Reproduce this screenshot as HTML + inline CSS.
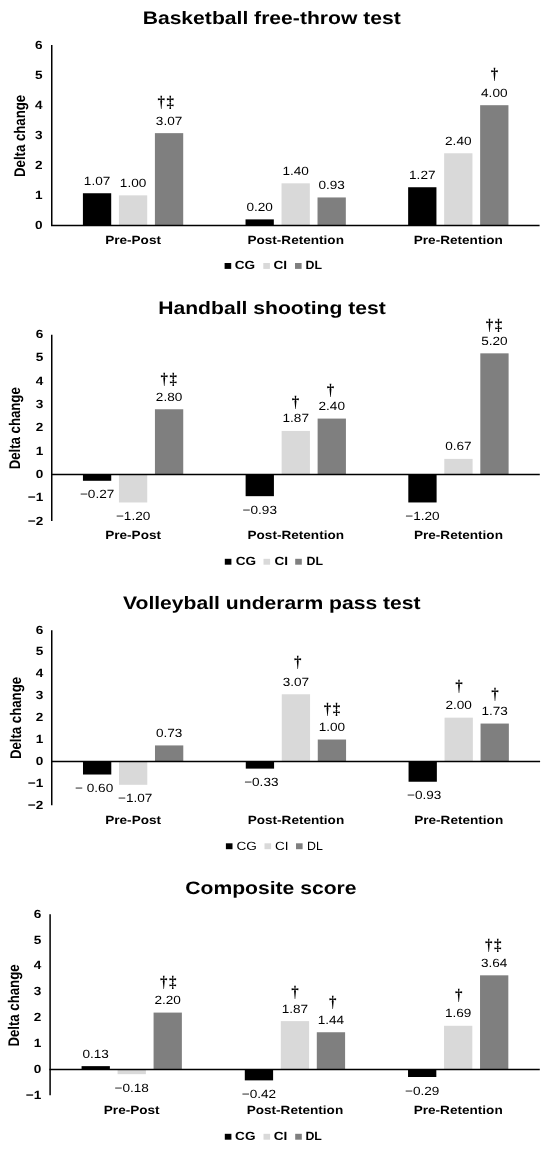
<!DOCTYPE html>
<html><head><meta charset="utf-8"><title>Delta change charts</title>
<style>
html,body{margin:0;padding:0;background:#fff;}
svg{display:block;}
text{fill:#000;font-family:'Liberation Sans', Arial, sans-serif;text-anchor:middle;text-rendering:geometricPrecision;}
text.s{font-size:11.9px;}
text.t{font-size:18.04px;}
text.a{font-size:13.2px;text-rendering:geometricPrecision;}
text.b{font-weight:bold;}
text.e{text-anchor:end;}
text.l{text-anchor:start;}
text.d{font-family:'Liberation Serif', 'Times New Roman', serif;font-size:16.3px;font-weight:bold;}
</style></head>
<body>
<svg width="550" height="1153" viewBox="0 0 550 1153">
<rect x="0" y="0" width="550" height="1153" fill="#fff"/>
<text class="t b" transform="translate(271.70,23.80) scale(1.1710,1)">Basketball free-throw test</text>
<text class="s b e" transform="translate(42.60,228.80) scale(1.1415,1)">0</text>
<text class="s b e" transform="translate(42.60,198.75) scale(1.1415,1)">1</text>
<text class="s b e" transform="translate(42.60,168.70) scale(1.1415,1)">2</text>
<text class="s b e" transform="translate(42.60,138.65) scale(1.1415,1)">3</text>
<text class="s b e" transform="translate(42.60,108.60) scale(1.1415,1)">4</text>
<text class="s b e" transform="translate(42.60,78.55) scale(1.1415,1)">5</text>
<text class="s b e" transform="translate(42.60,48.50) scale(1.1415,1)">6</text>
<text class="a b" transform="translate(25.00,135.90) scale(1.171,1) rotate(-90)">Delta change</text>
<rect x="82.91" y="193.25" width="28.3" height="32.15" fill="#000000"/>
<text class="s" transform="translate(97.06,184.75) scale(1.1415,1)">1.07</text>
<rect x="118.91" y="195.35" width="28.3" height="30.05" fill="#d9d9d9"/>
<text class="s" transform="translate(133.06,186.85) scale(1.1415,1)">1.00</text>
<rect x="154.91" y="133.15" width="28.3" height="92.25" fill="#7f7f7f"/>
<text class="s" transform="translate(169.06,124.65) scale(1.1415,1)">3.07</text>
<text class="d" transform="translate(161.20,107.35) scale(0.92,1)">†</text>
<text class="d" transform="translate(170.20,107.35) scale(0.92,1)">‡</text>
<text class="s b" transform="translate(133.06,243.60) scale(1.1415,1)">Pre-Post</text>
<rect x="245.53" y="219.39" width="28.3" height="6.01" fill="#000000"/>
<text class="s" transform="translate(259.68,210.89) scale(1.1415,1)">0.20</text>
<rect x="281.52" y="183.33" width="28.3" height="42.07" fill="#d9d9d9"/>
<text class="s" transform="translate(295.67,174.83) scale(1.1415,1)">1.40</text>
<rect x="317.52" y="197.45" width="28.3" height="27.95" fill="#7f7f7f"/>
<text class="s" transform="translate(331.67,188.95) scale(1.1415,1)">0.93</text>
<text class="s b" transform="translate(295.68,243.60) scale(1.1415,1)">Post-Retention</text>
<rect x="408.14" y="187.24" width="28.3" height="38.16" fill="#000000"/>
<text class="s" transform="translate(422.29,178.74) scale(1.1415,1)">1.27</text>
<rect x="444.14" y="153.28" width="28.3" height="72.12" fill="#d9d9d9"/>
<text class="s" transform="translate(458.29,144.78) scale(1.1415,1)">2.40</text>
<rect x="480.14" y="105.20" width="28.3" height="120.20" fill="#7f7f7f"/>
<text class="s" transform="translate(494.29,96.70) scale(1.1415,1)">4.00</text>
<text class="d" transform="translate(494.50,78.55) scale(0.92,1)">†</text>
<text class="s b" transform="translate(458.29,243.60) scale(1.1415,1)">Pre-Retention</text>
<line x1="51.75" y1="45.10" x2="51.75" y2="225.40" stroke="#000" stroke-width="1.5"/>
<line x1="51.00" y1="225.40" x2="539.60" y2="225.40" stroke="#000" stroke-width="1.5"/>
<rect x="224.60" y="263.00" width="6.6" height="5.9" fill="#000000"/>
<text class="s b l" transform="translate(234.70,269.20) scale(1.1415,1)">CG</text>
<rect x="263.30" y="263.00" width="6.6" height="5.9" fill="#d9d9d9"/>
<text class="s b l" transform="translate(273.40,269.20) scale(1.1415,1)">CI</text>
<rect x="295.00" y="263.00" width="6.6" height="5.9" fill="#7f7f7f"/>
<text class="s b l" transform="translate(305.60,269.20) scale(1.0387,1)">DL</text>
<text class="t b" transform="translate(272.00,313.60) scale(1.1710,1)">Handball shooting test</text>
<text class="s b e" transform="translate(43.20,524.50) scale(1.1415,1)">−2</text>
<text class="s b e" transform="translate(43.20,501.20) scale(1.1415,1)">−1</text>
<text class="s b e" transform="translate(43.20,477.90) scale(1.1415,1)">0</text>
<text class="s b e" transform="translate(43.20,454.60) scale(1.1415,1)">1</text>
<text class="s b e" transform="translate(43.20,431.30) scale(1.1415,1)">2</text>
<text class="s b e" transform="translate(43.20,408.00) scale(1.1415,1)">3</text>
<text class="s b e" transform="translate(43.20,384.70) scale(1.1415,1)">4</text>
<text class="s b e" transform="translate(43.20,361.40) scale(1.1415,1)">5</text>
<text class="s b e" transform="translate(43.20,338.10) scale(1.1415,1)">6</text>
<text class="a b" transform="translate(20.20,428.30) scale(1.171,1) rotate(-90)">Delta change</text>
<rect x="82.94" y="474.50" width="28.3" height="6.29" fill="#000000"/>
<text class="s" transform="translate(97.09,498.29) scale(1.1415,1)">−0.27</text>
<rect x="118.94" y="474.50" width="28.3" height="27.96" fill="#d9d9d9"/>
<text class="s" transform="translate(133.09,519.96) scale(1.1415,1)">−1.20</text>
<rect x="154.94" y="409.26" width="28.3" height="65.24" fill="#7f7f7f"/>
<text class="s" transform="translate(169.09,400.76) scale(1.1415,1)">2.80</text>
<text class="d" transform="translate(164.30,384.45) scale(0.92,1)">†</text>
<text class="d" transform="translate(173.30,384.45) scale(0.92,1)">‡</text>
<text class="s b" transform="translate(133.09,538.70) scale(1.1415,1)">Pre-Post</text>
<rect x="245.62" y="474.50" width="28.3" height="21.67" fill="#000000"/>
<text class="s" transform="translate(259.77,513.67) scale(1.1415,1)">−0.93</text>
<rect x="281.62" y="430.93" width="28.3" height="43.57" fill="#d9d9d9"/>
<text class="s" transform="translate(295.77,422.43) scale(1.1415,1)">1.87</text>
<text class="d" transform="translate(295.60,407.40) scale(0.92,1)">†</text>
<rect x="317.62" y="418.58" width="28.3" height="55.92" fill="#7f7f7f"/>
<text class="s" transform="translate(331.77,410.08) scale(1.1415,1)">2.40</text>
<text class="d" transform="translate(330.45,394.50) scale(0.92,1)">†</text>
<text class="s b" transform="translate(295.77,538.70) scale(1.1415,1)">Post-Retention</text>
<rect x="408.31" y="474.50" width="28.3" height="27.96" fill="#000000"/>
<text class="s" transform="translate(422.46,519.96) scale(1.1415,1)">−1.20</text>
<rect x="444.31" y="458.89" width="28.3" height="15.61" fill="#d9d9d9"/>
<text class="s" transform="translate(458.46,450.39) scale(1.1415,1)">0.67</text>
<rect x="480.31" y="353.34" width="28.3" height="121.16" fill="#7f7f7f"/>
<text class="s" transform="translate(494.46,344.84) scale(1.1415,1)">5.20</text>
<text class="d" transform="translate(489.50,329.50) scale(0.92,1)">†</text>
<text class="d" transform="translate(498.50,329.50) scale(0.92,1)">‡</text>
<text class="s b" transform="translate(458.46,538.70) scale(1.1415,1)">Pre-Retention</text>
<line x1="51.75" y1="334.70" x2="51.75" y2="521.10" stroke="#000" stroke-width="1.5"/>
<line x1="51.00" y1="474.50" x2="539.80" y2="474.50" stroke="#000" stroke-width="1.5"/>
<rect x="224.80" y="558.80" width="6.6" height="5.9" fill="#000000"/>
<text class="s b l" transform="translate(235.70,565.00) scale(1.1415,1)">CG</text>
<rect x="263.50" y="558.80" width="6.6" height="5.9" fill="#d9d9d9"/>
<text class="s b l" transform="translate(274.40,565.00) scale(1.1415,1)">CI</text>
<rect x="295.20" y="558.80" width="6.6" height="5.9" fill="#7f7f7f"/>
<text class="s b l" transform="translate(306.60,565.00) scale(1.0387,1)">DL</text>
<text class="t b" transform="translate(271.80,609.10) scale(1.1710,1)">Volleyball underarm pass test</text>
<text class="s b e" transform="translate(43.20,808.54) scale(1.1415,1)">−2</text>
<text class="s b e" transform="translate(43.20,786.67) scale(1.1415,1)">−1</text>
<text class="s b e" transform="translate(43.20,764.80) scale(1.1415,1)">0</text>
<text class="s b e" transform="translate(43.20,742.93) scale(1.1415,1)">1</text>
<text class="s b e" transform="translate(43.20,721.06) scale(1.1415,1)">2</text>
<text class="s b e" transform="translate(43.20,699.19) scale(1.1415,1)">3</text>
<text class="s b e" transform="translate(43.20,677.32) scale(1.1415,1)">4</text>
<text class="s b e" transform="translate(43.20,655.45) scale(1.1415,1)">5</text>
<text class="s b e" transform="translate(43.20,633.58) scale(1.1415,1)">6</text>
<text class="a b" transform="translate(20.70,718.00) scale(1.171,1) rotate(-90)">Delta change</text>
<rect x="82.99" y="761.40" width="28.3" height="13.12" fill="#000000"/>
<text class="s" transform="translate(94.14,792.02) scale(1.1415,1)">− 0.60</text>
<rect x="118.99" y="761.40" width="28.3" height="23.40" fill="#d9d9d9"/>
<text class="s" transform="translate(135.14,802.30) scale(1.1415,1)">−1.07</text>
<rect x="154.99" y="745.43" width="28.3" height="15.97" fill="#7f7f7f"/>
<text class="s" transform="translate(169.14,736.93) scale(1.1415,1)">0.73</text>
<text class="s b" transform="translate(133.14,824.00) scale(1.1415,1)">Pre-Post</text>
<rect x="245.78" y="761.40" width="28.3" height="7.22" fill="#000000"/>
<text class="s" transform="translate(261.32,786.12) scale(1.1415,1)">−0.33</text>
<rect x="281.77" y="694.26" width="28.3" height="67.14" fill="#d9d9d9"/>
<text class="s" transform="translate(295.92,685.76) scale(1.1415,1)">3.07</text>
<text class="d" transform="translate(297.80,667.15) scale(0.92,1)">†</text>
<rect x="317.77" y="739.53" width="28.3" height="21.87" fill="#7f7f7f"/>
<text class="s" transform="translate(331.92,731.03) scale(1.1415,1)">1.00</text>
<text class="d" transform="translate(327.60,713.65) scale(0.92,1)">†</text>
<text class="d" transform="translate(336.60,713.65) scale(0.92,1)">‡</text>
<text class="s b" transform="translate(295.93,824.00) scale(1.1415,1)">Post-Retention</text>
<rect x="408.56" y="761.40" width="28.3" height="20.34" fill="#000000"/>
<text class="s" transform="translate(424.21,799.24) scale(1.1415,1)">−0.93</text>
<rect x="444.56" y="717.66" width="28.3" height="43.74" fill="#d9d9d9"/>
<text class="s" transform="translate(458.71,709.16) scale(1.1415,1)">2.00</text>
<text class="d" transform="translate(458.90,691.30) scale(0.92,1)">†</text>
<rect x="480.56" y="723.56" width="28.3" height="37.84" fill="#7f7f7f"/>
<text class="s" transform="translate(494.71,715.06) scale(1.1415,1)">1.73</text>
<text class="d" transform="translate(495.10,698.50) scale(0.92,1)">†</text>
<text class="s b" transform="translate(458.71,824.00) scale(1.1415,1)">Pre-Retention</text>
<line x1="51.75" y1="630.18" x2="51.75" y2="805.14" stroke="#000" stroke-width="1.5"/>
<line x1="51.00" y1="761.40" x2="540.10" y2="761.40" stroke="#000" stroke-width="1.5"/>
<rect x="225.90" y="843.30" width="6.6" height="5.9" fill="#000000"/>
<text class="s l" transform="translate(236.40,849.50) scale(1.1415,1)">CG</text>
<rect x="264.50" y="843.30" width="6.6" height="5.9" fill="#d9d9d9"/>
<text class="s l" transform="translate(275.00,849.50) scale(1.1415,1)">CI</text>
<rect x="296.00" y="843.30" width="6.6" height="5.9" fill="#7f7f7f"/>
<text class="s l" transform="translate(307.00,849.50) scale(1.0387,1)">DL</text>
<text class="t b" transform="translate(270.90,893.80) scale(1.1710,1)">Composite score</text>
<text class="s b e" transform="translate(41.20,1098.77) scale(1.1415,1)">−1</text>
<text class="s b e" transform="translate(41.20,1072.90) scale(1.1415,1)">0</text>
<text class="s b e" transform="translate(41.20,1047.03) scale(1.1415,1)">1</text>
<text class="s b e" transform="translate(41.20,1021.16) scale(1.1415,1)">2</text>
<text class="s b e" transform="translate(41.20,995.29) scale(1.1415,1)">3</text>
<text class="s b e" transform="translate(41.20,969.42) scale(1.1415,1)">4</text>
<text class="s b e" transform="translate(41.20,943.55) scale(1.1415,1)">5</text>
<text class="s b e" transform="translate(41.20,917.68) scale(1.1415,1)">6</text>
<text class="a b" transform="translate(19.00,1005.50) scale(1.171,1) rotate(-90)">Delta change</text>
<rect x="81.57" y="1066.14" width="28.3" height="3.36" fill="#000000"/>
<text class="s" transform="translate(95.72,1057.64) scale(1.1415,1)">0.13</text>
<rect x="117.57" y="1069.50" width="28.3" height="4.66" fill="#d9d9d9"/>
<text class="s" transform="translate(131.72,1091.66) scale(1.1415,1)">−0.18</text>
<rect x="153.57" y="1012.59" width="28.3" height="56.91" fill="#7f7f7f"/>
<text class="s" transform="translate(167.72,1004.09) scale(1.1415,1)">2.20</text>
<text class="d" transform="translate(163.85,987.05) scale(0.92,1)">†</text>
<text class="d" transform="translate(172.85,987.05) scale(0.92,1)">‡</text>
<text class="s b" transform="translate(131.72,1113.60) scale(1.1415,1)">Pre-Post</text>
<rect x="244.80" y="1069.50" width="28.3" height="10.87" fill="#000000"/>
<text class="s" transform="translate(258.95,1097.87) scale(1.1415,1)">−0.42</text>
<rect x="280.80" y="1021.12" width="28.3" height="48.38" fill="#d9d9d9"/>
<text class="s" transform="translate(294.95,1012.62) scale(1.1415,1)">1.87</text>
<text class="d" transform="translate(295.05,997.20) scale(0.92,1)">†</text>
<rect x="316.80" y="1032.25" width="28.3" height="37.25" fill="#7f7f7f"/>
<text class="s" transform="translate(330.95,1023.75) scale(1.1415,1)">1.44</text>
<text class="d" transform="translate(332.85,1007.00) scale(0.92,1)">†</text>
<text class="s b" transform="translate(294.95,1113.60) scale(1.1415,1)">Post-Retention</text>
<rect x="408.03" y="1069.50" width="28.3" height="7.50" fill="#000000"/>
<text class="s" transform="translate(422.18,1094.50) scale(1.1415,1)">−0.29</text>
<rect x="444.03" y="1025.78" width="28.3" height="43.72" fill="#d9d9d9"/>
<text class="s" transform="translate(458.18,1017.28) scale(1.1415,1)">1.69</text>
<text class="d" transform="translate(458.85,1000.30) scale(0.92,1)">†</text>
<rect x="480.03" y="975.33" width="28.3" height="94.17" fill="#7f7f7f"/>
<text class="s" transform="translate(494.18,966.83) scale(1.1415,1)">3.64</text>
<text class="d" transform="translate(488.85,950.05) scale(0.92,1)">†</text>
<text class="d" transform="translate(497.85,950.05) scale(0.92,1)">‡</text>
<text class="s b" transform="translate(458.18,1113.60) scale(1.1415,1)">Pre-Retention</text>
<line x1="50.10" y1="914.28" x2="50.10" y2="1095.37" stroke="#000" stroke-width="1.5"/>
<line x1="49.35" y1="1069.50" x2="539.80" y2="1069.50" stroke="#000" stroke-width="1.5"/>
<rect x="224.80" y="1133.80" width="6.6" height="5.9" fill="#000000"/>
<text class="s b l" transform="translate(235.10,1140.00) scale(1.1415,1)">CG</text>
<rect x="263.50" y="1133.80" width="6.6" height="5.9" fill="#d9d9d9"/>
<text class="s b l" transform="translate(273.80,1140.00) scale(1.1415,1)">CI</text>
<rect x="295.20" y="1133.80" width="6.6" height="5.9" fill="#7f7f7f"/>
<text class="s b l" transform="translate(305.40,1140.00) scale(1.0387,1)">DL</text>
</svg>
</body></html>
